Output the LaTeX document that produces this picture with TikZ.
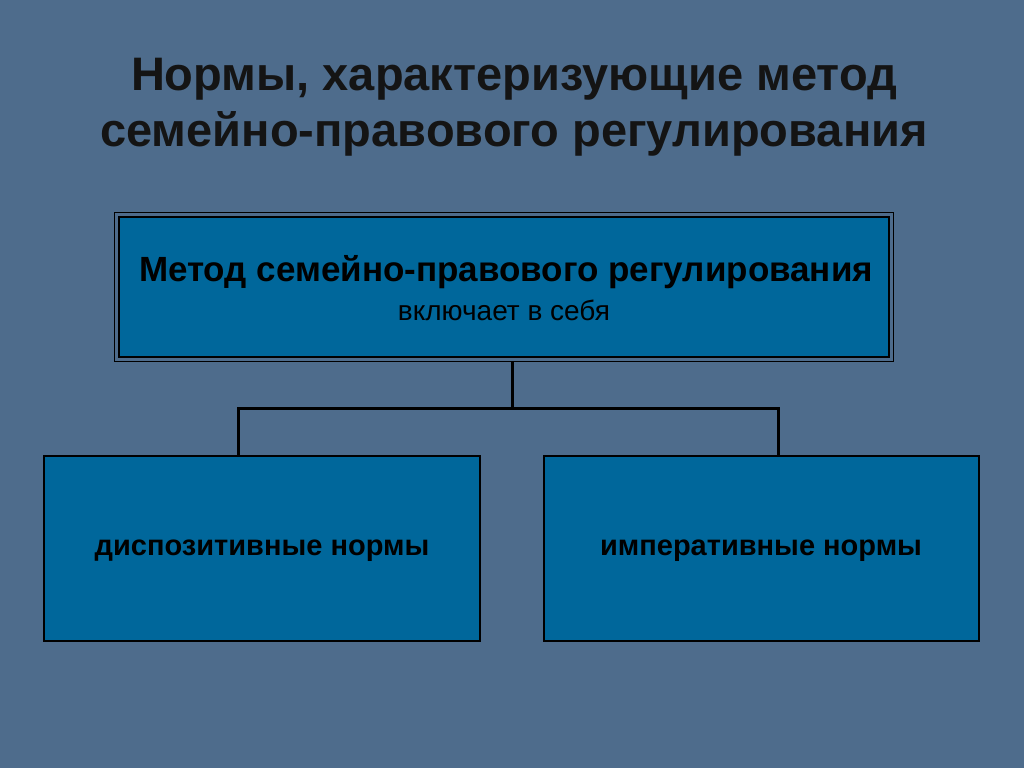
\documentclass[tikz,border=0pt]{standalone}
\usepackage{fontspec}
\setmainfont{Liberation Sans}
\begin{document}
\begin{tikzpicture}[x=1pt,y=-1pt,
  boxfill/.style={fill=boxblue,draw=black,line width=2.5pt},
  conn/.style={draw=black,line width=3pt}]
\definecolor{bg}{HTML}{4E6C8C}
\definecolor{boxblue}{HTML}{00679B}
\definecolor{ttl}{HTML}{141414}
\fill[bg] (0,0) rectangle (1024,768);
\useasboundingbox (0,0) rectangle (1024,768);
\node[text=ttl,font=\bfseries\fontsize{47}{56}\selectfont,align=center] (title) at (514,107)
  {Нормы, характеризующие метод\\семейно-правового регулирования};
\draw[black,line width=1pt] (114,212) rectangle (893,361);
\draw[boxfill] (119,217) rectangle (889,357);
\node[font=\bfseries\fontsize{35}{40}\selectfont,text=black] (top) at (506,272) {Метод семейно-правового регулирования};
\node[font=\fontsize{28}{32}\selectfont,text=black] (sub) at (504,310) {включает в себя};
\coordinate (tb) at (512,361);
\draw[boxfill] (44,456) rectangle (480,641);
\draw[boxfill] (544,456) rectangle (979,641);
\node[font=\bfseries\fontsize{29}{34}\selectfont,text=black] (left) at (262,551) {диспозитивные нормы};
\node[font=\bfseries\fontsize{29}{34}\selectfont,text=black] (right) at (761,551) {императивные нормы};
\coordinate (lt) at (238,456);
\coordinate (rt) at (778,456);
\draw[conn] (tb) -- (512,408);
\draw[conn] (lt) -- (238,408) -- (778,408) -- (rt);
\end{tikzpicture}
\end{document}
